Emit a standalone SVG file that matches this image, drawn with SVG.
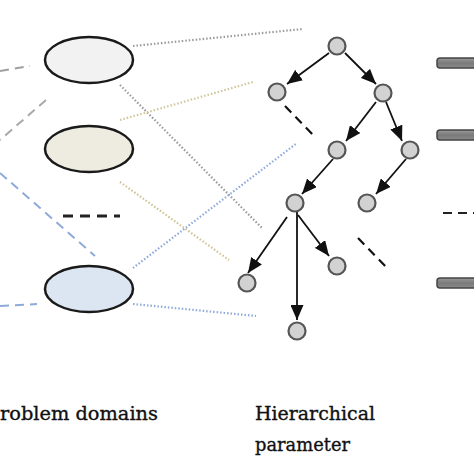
<svg xmlns="http://www.w3.org/2000/svg" width="474" height="474" viewBox="0 0 474 474">
<defs>
<marker id="arr" markerUnits="userSpaceOnUse" markerWidth="15" markerHeight="13" refX="15" refY="6.5" orient="auto">
<path d="M0,0 L15,6.5 L0,13 z" fill="#111"/>
</marker>
<linearGradient id="barg" x1="0" y1="0" x2="0" y2="1">
<stop offset="0" stop-color="#9a9a9a"/>
<stop offset="0.5" stop-color="#7a7a7a"/>
<stop offset="1" stop-color="#8a8a8a"/>
</linearGradient>
<style>
.ell{stroke:#1a1a1a;stroke-width:2.5}
.nd{fill:#d2d2d2;stroke:#555;stroke-width:2.2}
.ar{stroke:#111;stroke-width:1.8;fill:none;marker-end:url(#arr)}
.dot{fill:none;stroke-width:2.2;stroke-dasharray:1.5 2}
.dsh{fill:none;stroke-width:2;stroke-dasharray:9 6}
.bar{fill:url(#barg);stroke:#444;stroke-width:1.5}
.lbl{font-family:"DejaVu Serif","Liberation Serif",serif;font-size:19px;fill:#111;stroke:#111;stroke-width:0.35}
</style>
</defs>
<rect width="474" height="474" fill="#fff"/>
<g id="connectors">
<line class="dsh" x1="0" y1="71" x2="30" y2="66" stroke="#a0a0a0"/>
<line class="dsh" x1="46" y1="100" x2="0" y2="140" stroke="#a8a8a8"/>
<line class="dsh" x1="0" y1="173" x2="95" y2="256" stroke="#8eaad8"/>
<line class="dsh" x1="0" y1="306" x2="37" y2="304" stroke="#8eaad8"/>
<line class="dot" x1="133" y1="46" x2="303" y2="29" stroke="#9a9a9a"/>
<line class="dot" x1="120" y1="85" x2="262" y2="228" stroke="#9a9a9a"/>
<line class="dot" x1="120" y1="120" x2="253" y2="82" stroke="#cfc79a"/>
<line class="dot" x1="120" y1="182" x2="229" y2="260" stroke="#cfc392"/>
<line class="dot" x1="133" y1="268" x2="297" y2="143" stroke="#8eaadb"/>
<line class="dot" x1="133" y1="304" x2="256" y2="316" stroke="#8eaadb"/>
<line x1="63" y1="216" x2="120" y2="216" stroke="#222" stroke-width="3" stroke-dasharray="10 7"/>
<line class="ar" x1="329" y1="53" x2="287" y2="84"/>
<line class="ar" x1="345" y1="53" x2="376" y2="84"/>
<line x1="285" y1="106" x2="316" y2="138" stroke="#111" stroke-width="2.2" stroke-dasharray="9 6"/>
<line class="ar" x1="376" y1="102" x2="346" y2="141"/>
<line class="ar" x1="386" y1="102" x2="402" y2="141"/>
<line class="ar" x1="333" y1="159" x2="302" y2="194"/>
<line class="ar" x1="406" y1="159" x2="376" y2="194"/>
<line class="ar" x1="287" y1="217" x2="248" y2="273"/>
<line class="ar" x1="297" y1="212" x2="297" y2="320"/>
<line class="ar" x1="298" y1="215" x2="329" y2="256"/>
<line x1="358" y1="238" x2="389" y2="270" stroke="#111" stroke-width="2.2" stroke-dasharray="9 6"/>
<line x1="443" y1="213" x2="474" y2="213" stroke="#222" stroke-width="2.2" stroke-dasharray="9 6"/>
</g>
<g id="domain1"><ellipse class="ell" cx="89" cy="60" rx="44" ry="23" fill="#f2f2f2"/></g>
<g id="domain2"><ellipse class="ell" cx="89" cy="149" rx="44" ry="23" fill="#eeebe0"/></g>
<g id="domain3"><ellipse class="ell" cx="89" cy="289" rx="44" ry="23" fill="#dce6f2"/></g>
<g id="n1"><circle class="nd" cx="337" cy="46" r="8.5"/></g>
<g id="n2"><circle class="nd" cx="277" cy="92" r="8.5"/></g>
<g id="n3"><circle class="nd" cx="383" cy="93" r="8.5"/></g>
<g id="n4"><circle class="nd" cx="337" cy="150" r="8.5"/></g>
<g id="n5"><circle class="nd" cx="410" cy="150" r="8.5"/></g>
<g id="n6"><circle class="nd" cx="295" cy="203" r="8.5"/></g>
<g id="n7"><circle class="nd" cx="367" cy="203" r="8.5"/></g>
<g id="n8"><circle class="nd" cx="247" cy="283" r="8.5"/></g>
<g id="n9"><circle class="nd" cx="337" cy="266" r="8.5"/></g>
<g id="n10"><circle class="nd" cx="297" cy="331" r="8.5"/></g>
<g id="bar1"><rect class="bar" x="437" y="58" width="45" height="10" rx="3"/></g>
<g id="bar2"><rect class="bar" x="437" y="130" width="45" height="10" rx="3"/></g>
<g id="bar3"><rect class="bar" x="437" y="278" width="45" height="10" rx="3"/></g>
<g id="labels">
<text class="lbl" x="0" y="420" textLength="158" lengthAdjust="spacingAndGlyphs">roblem domains</text>
<text class="lbl" x="255" y="420" textLength="120" lengthAdjust="spacingAndGlyphs">Hierarchical</text>
<text class="lbl" x="255" y="451" textLength="95" lengthAdjust="spacingAndGlyphs">parameter</text>
</g>
</svg>
